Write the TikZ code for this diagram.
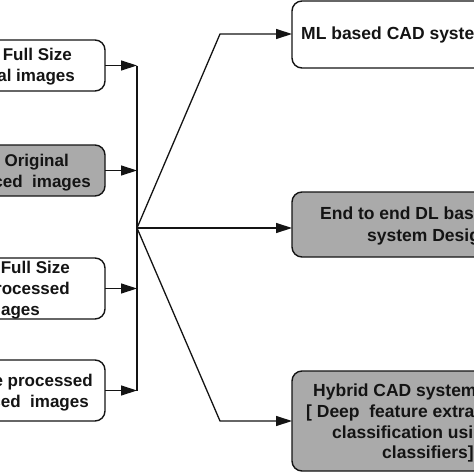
\documentclass[tikz,border=0pt]{standalone}
\usepackage{fontspec}
\setmainfont{Liberation Sans}
\usetikzlibrary{arrows.meta}
\definecolor{boxgray}{RGB}{170,170,170}
\definecolor{ink}{RGB}{20,20,20}
\begin{document}
\begin{tikzpicture}[x=1pt,y=-1pt,
  box/.style={draw=ink, line width=1.4pt, rounded corners=10pt, outer sep=0pt, inner sep=0pt},
  wbox/.style={box, fill=white},
  gbox/.style={box, fill=boxgray},
  lbl/.style={inner sep=0pt, text=ink, font=\fontsize{17.5}{20}\selectfont\bfseries},
  llbl/.style={inner sep=0pt, text=ink, font=\fontsize{17}{20}\selectfont\bfseries},
  arr/.style={draw=ink, line width=1.3pt, -{Triangle[length=16pt,width=10pt]}},
  wire/.style={draw=ink, line width=1.3pt}]
\useasboundingbox (0,0) rectangle (474,474);
\clip (0,0) rectangle (474,474);
% left boxes
\node[wbox, minimum width=165pt, minimum height=51pt, anchor=north east] (b1) at (105,40) {};
\node[gbox, minimum width=165pt, minimum height=51pt, anchor=north east] (b2) at (105,145) {};
\node[wbox, minimum width=165pt, minimum height=61pt, anchor=north east] (b3) at (105,258) {};
\node[wbox, minimum width=165pt, minimum height=61pt, anchor=north east] (b4) at (105,360) {};
% right boxes
\node[wbox, minimum width=250pt, minimum height=67pt, anchor=north west] (r1) at (292,1) {};
\node[gbox, minimum width=250pt, minimum height=65pt, anchor=north west] (r2) at (292,192) {};
\node[gbox, minimum width=250pt, minimum height=100pt, anchor=north west] (r3) at (292,371) {};
% left texts
\node[llbl, anchor=base east] (t1a) at (72,60) {Full Size};
\node[llbl, anchor=base east] (t1b) at (75,81) {Original images};
\node[llbl, anchor=base east] (t2a) at (69,166) {Original};
\node[llbl, anchor=base east] (t2b) at (91,187) {Enhanced\ \ images};
\node[llbl, anchor=base east] (t3a) at (70,273) {Full Size};
\node[llbl, anchor=base east] (t3b) at (70,294) {Preprocessed};
\node[llbl, anchor=base east] (t3c) at (40,315) {images};
\node[llbl, anchor=base east] (t4a) at (93,386) {Pre processed};
\node[llbl, anchor=base east] (t4b) at (89,407) {Enhanced\ \ images};
% right texts
\node[lbl, anchor=base west] (s1) at (301,39) {ML based CAD system};
\node[lbl, anchor=base west] (s2a) at (320,219) {End to end DL based CAD};
\node[lbl, anchor=base west] (s2b) at (367,241) {system Design};
\node[lbl, anchor=base west] (s3a) at (313,396) {Hybrid CAD system};
\node[lbl, anchor=base west] (s3b) at (306,417) {[ Deep\ \ feature extraction};
\node[lbl, anchor=base west] (s3c) at (332,438) {classification using};
\node[lbl, anchor=base west] (s3d) at (382,458) {classifiers]};
% connectors
\coordinate (hub) at (137,228);
\coordinate (k1) at (220,34);
\coordinate (k3) at (220,421);
\draw[arr] (b1.east) -- (b1.east -| hub);
\draw[arr] (b2.east) -- (b2.east -| hub);
\draw[arr] (b3.east) -- (b3.east -| hub);
\draw[arr] (b4.east) -- (b4.east -| hub);
\draw[wire] (b1.east -| hub) -- (b4.east -| hub);
\draw[arr] (hub) -- (k1) -- (k1 -| r1.west);
\draw[arr] (hub) -- (hub -| r2.west);
\draw[arr] (hub) -- (k3) -- (k3 -| r3.west);
\end{tikzpicture}
\end{document}
